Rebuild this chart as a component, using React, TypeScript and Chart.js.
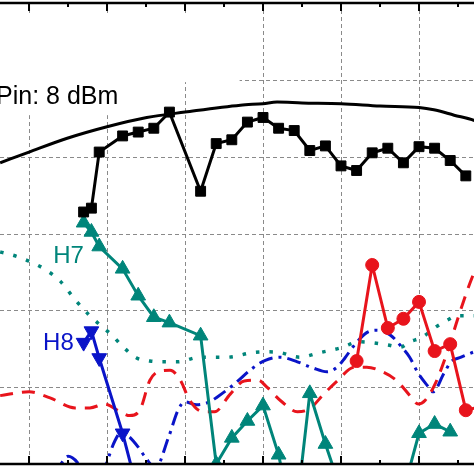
import { useEffect, useRef } from 'react';
import { Chart, registerables } from 'chart.js';

Chart.register(...registerables);

// Visible window of the (cropped) plot
const X_MIN = 0.628;
const X_MAX = 6.705;
const Y_MIN = -60;
const Y_MAX = 0;
const xMajorTicks = [1, 2, 3, 4, 5, 6];
const xMinorTicks = [1.5, 2.5, 3.5, 4.5, 5.5, 6.5];
const yGridValues = [-50, -40, -30, -20, -10];

// Fundamental, simulated (solid smooth line)
const simFundX = [0.63, 1.0, 1.49, 2.0, 2.51, 3.0, 3.71, 4.0, 4.18, 4.5, 5.0, 5.5, 6.0, 6.19, 6.45, 6.71, 6.8];
const simFundY = [-20.8, -19.4, -17.6, -16.1, -14.9, -14.2, -13.3, -13.1, -12.9, -13.0, -13.1, -13.4, -13.6, -13.9, -14.6, -15.3, -15.8];

// Fundamental, measured (black squares)
const measFundX = [1.7, 1.8, 1.9, 2.2, 2.4, 2.6, 2.8, 3.2, 3.4, 3.6, 3.8, 4.0, 4.2, 4.4, 4.6, 4.8, 5.0, 5.2, 5.4, 5.6, 5.8, 6.0, 6.2, 6.4, 6.6];
const measFundY = [-27.2, -26.7, -19.4, -17.3, -16.8, -16.3, -14.2, -24.5, -18.3, -17.8, -15.5, -14.9, -16.3, -16.6, -19.2, -18.6, -21.2, -21.8, -19.5, -18.9, -20.8, -18.7, -18.9, -20.5, -22.5];

// H7 measured (teal triangles)
const measH7X = [1.7, 1.8, 1.9, 2.2, 2.4, 2.6, 2.8, 3.2, 3.4, 3.6, 3.8, 4.0, 4.2, 4.4, 4.6, 4.8, 5.0, 5.2, 5.4, 5.6, 5.8, 6.0, 6.2, 6.4];
const measH7Y = [-28.6, -29.8, -31.7, -34.6, -38.1, -40.9, -41.6, -43.3, -60, -56.6, -54.4, -52.4, -58.8, -68.6, -50.8, -57.4, -63.4, -70, -70, -70, -63.5, -56.0, -54.8, -55.8];

// H8 measured (blue inverted triangles)
const measH8X = [1.7, 1.8, 1.9, 2.2, 2.4];
const measH8Y = [-44.2, -42.7, -46.2, -56.0, -63.8];

// Red measured (circles)
const measRedX = [5.2, 5.4, 5.6, 5.8, 6.0, 6.2, 6.4, 6.6, 6.8];
const measRedY = [-46.6, -34.1, -42.3, -41.1, -38.9, -45.3, -44.4, -53.0, -52.5];

// H7 simulated (teal dotted)
const simH7X = [0.63, 0.82, 1.0, 1.21, 1.4, 1.59, 1.76, 1.91, 2.06, 2.21, 2.38, 2.55, 2.72, 2.9, 3.19, 3.54, 3.87, 4.05, 4.22, 4.47, 4.73, 4.99, 5.24, 5.59, 5.76, 5.88, 6.04, 6.21, 6.36, 6.5, 6.71, 6.8];
const simH7Y = [-32.4, -32.9, -33.6, -34.7, -36.2, -38.6, -40.5, -41.9, -43.2, -44.8, -46.2, -46.6, -46.7, -46.7, -46.1, -46.1, -45.5, -45.4, -45.5, -46.1, -45.5, -44.9, -44.1, -44.5, -44.8, -44.1, -43.5, -42.2, -41.3, -40.7, -40.7, -40.7];

// Red simulated (dashed)
const simRedX = [0.63, 1.0, 1.27, 1.59, 1.78, 1.97, 2.17, 2.29, 2.42, 2.55, 2.68, 2.81, 2.94, 3.06, 3.23, 3.38, 3.58, 3.76, 3.94, 4.05, 4.23, 4.44, 4.6, 4.77, 4.95, 5.17, 5.33, 5.51, 5.72, 5.9, 5.99, 6.08, 6.21, 6.36, 6.5, 6.63, 6.78];
const simRedY = [-51.1, -50.6, -51.4, -52.7, -52.7, -52.2, -53.2, -53.7, -53.0, -49.1, -47.9, -47.8, -49.1, -51.7, -53.2, -53.2, -50.9, -49.2, -49.1, -50.0, -51.8, -53.2, -52.8, -51.0, -49.2, -47.4, -47.4, -47.9, -49.2, -51.3, -52.2, -51.7, -49.5, -45.5, -41.0, -37.1, -33.2];

// H8 simulated (blue dash-dot)
const simH8X = [0.63, 0.9, 1.37, 1.5, 1.62, 1.8, 1.95, 2.1, 2.19, 2.29, 2.4, 2.49, 2.62, 2.79, 2.91, 3.0, 3.15, 3.32, 3.41, 3.62, 3.87, 4.03, 4.22, 4.44, 4.64, 4.82, 4.95, 5.05, 5.15, 5.33, 5.46, 5.63, 5.78, 5.88, 5.99, 6.1, 6.18, 6.32, 6.41, 6.54, 6.71, 6.8];
const simH8Y = [-66, -63, -60.5, -59.0, -59.8, -63, -61, -57.0, -55.8, -56.5, -57.8, -59.1, -60.5, -56.5, -53.0, -51.9, -52.3, -51.9, -51.3, -49.7, -47.5, -46.5, -46.1, -46.7, -47.5, -48.0, -47.4, -46.2, -44.8, -42.9, -42.6, -43.2, -44.8, -46.1, -48.2, -49.7, -50.6, -48.2, -46.7, -46.1, -45.4, -45.2];

// Text annotations (data units)
const noteTexts = ['Pin: 8 dBm', 'H7', 'H8'];
const noteX = [0.577, 1.31, 1.18];
const noteY = [-13.1, -33.8, -45.2];
const noteColors = ['#000000', '#00857a', '#0a14c8'];
const noteSizes = [25, 24, 24];

// White boxes hiding the grid under the (cropped) legend and label
const boxX0 = [0.5, 0.5];
const boxX1 = [3.7, 2.5];
const boxY0 = [-10.3, -14.6];
const boxY1 = [-1.3, -10];

const TEAL = '#00857a';
const BLUE = '#0a14c8';
const RED = '#e8141c';

const zip = (xs: number[], ys: number[]) => xs.map((x, i) => ({ x, y: ys[i] }));

const framePlugin = {
  id: 'frameAndGrid',
  beforeDatasetsDraw: (chart: any) => {
    const { ctx, chartArea } = chart;
    const xs = chart.scales.x;
    const ys = chart.scales.y;
    ctx.save();
    ctx.strokeStyle = '#8a8a8a';
    ctx.lineWidth = 1;
    ctx.setLineDash([4, 3]);
    xMajorTicks.forEach((v) => {
      const px = Math.round(xs.getPixelForValue(v)) + 0.5;
      ctx.beginPath();
      ctx.moveTo(px, chartArea.top);
      ctx.lineTo(px, chartArea.bottom);
      ctx.stroke();
    });
    yGridValues.forEach((v) => {
      const py = Math.round(ys.getPixelForValue(v)) + 0.5;
      ctx.beginPath();
      ctx.moveTo(chartArea.left, py);
      ctx.lineTo(chartArea.right, py);
      ctx.stroke();
    });
    ctx.setLineDash([]);
    ctx.fillStyle = '#ffffff';
    boxX0.forEach((_, i) => {
      const l = xs.getPixelForValue(boxX0[i]);
      const r = xs.getPixelForValue(boxX1[i]);
      const t = ys.getPixelForValue(boxY1[i]);
      const b = ys.getPixelForValue(boxY0[i]);
      ctx.fillRect(l, t, r - l, b - t);
    });
    ctx.restore();
  },
  afterDatasetsDraw: (chart: any) => {
    const { ctx, chartArea } = chart;
    const xs = chart.scales.x;
    const ys = chart.scales.y;
    ctx.save();
    // top and bottom frame
    ctx.strokeStyle = '#000000';
    ctx.lineWidth = 2.5;
    ctx.beginPath();
    ctx.moveTo(chartArea.left, chartArea.top);
    ctx.lineTo(chartArea.right, chartArea.top);
    ctx.moveTo(chartArea.left, chartArea.bottom);
    ctx.lineTo(chartArea.right, chartArea.bottom);
    ctx.stroke();
    // inward ticks
    ctx.lineWidth = 2;
    const drawTicks = (vals: number[], len: number) => {
      vals.forEach((v) => {
        const px = xs.getPixelForValue(v);
        ctx.beginPath();
        ctx.moveTo(px, chartArea.top);
        ctx.lineTo(px, chartArea.top + len);
        ctx.moveTo(px, chartArea.bottom);
        ctx.lineTo(px, chartArea.bottom - len);
        ctx.stroke();
      });
    };
    drawTicks(xMajorTicks, 8);
    drawTicks(xMinorTicks, 4);
    // text notes
    ctx.textAlign = 'left';
    ctx.textBaseline = 'alphabetic';
    noteTexts.forEach((t, i) => {
      ctx.fillStyle = noteColors[i];
      ctx.font = `${noteSizes[i]}px "Liberation Sans", Arial, sans-serif`;
      ctx.fillText(t, xs.getPixelForValue(noteX[i]), ys.getPixelForValue(noteY[i]));
    });
    ctx.restore();
  },
};

const App = () => {
  const chartRef = useRef<HTMLCanvasElement>(null);
  const chartInstance = useRef<Chart | null>(null);

  useEffect(() => {
    if (!chartRef.current) return;
    if (chartInstance.current) chartInstance.current.destroy();
    const ctx = chartRef.current.getContext('2d');
    if (!ctx) return;

    const markerLine = (data: any, color: string, style: string, radius: number, rotation = 0) => ({
      data,
      borderColor: color,
      backgroundColor: color,
      borderWidth: 3,
      pointStyle: style,
      pointRadius: radius,
      pointRotation: rotation,
      pointBorderWidth: 1,
      tension: 0,
    });
    const plainLine = (data: any, color: string, dash: number[], width = 3) => ({
      data,
      borderColor: color,
      backgroundColor: color,
      borderWidth: width,
      borderDash: dash,
      pointRadius: 0,
      cubicInterpolationMode: 'monotone' as const,
    });

    chartInstance.current = new Chart(ctx, {
      type: 'line',
      plugins: [framePlugin],
      data: {
        datasets: [
          markerLine(zip(measFundX, measFundY), '#000000', 'rect', 7),
          markerLine(zip(measRedX, measRedY), RED, 'circle', 6.5),
          markerLine(zip(measH7X, measH7Y), TEAL, 'triangle', 8.5),
          markerLine(zip(measH8X, measH8Y), BLUE, 'triangle', 8.5, 180),
          plainLine(zip(simFundX, simFundY), '#000000', [], 3),
          plainLine(zip(simRedX, simRedY), RED, [13, 9]),
          plainLine(zip(simH8X, simH8Y), BLUE, [14, 6, 3, 6]),
          plainLine(zip(simH7X, simH7Y), TEAL, [3.5, 10], 3.5),
        ] as any,
      },
      options: {
        animation: false,
        responsive: true,
        maintainAspectRatio: false,
        events: [],
        layout: { autoPadding: false, padding: { top: 3, bottom: 2, left: 0, right: 0 } },
        plugins: {
          legend: { display: false },
          tooltip: { enabled: false },
        },
        scales: {
          x: { type: 'linear', min: X_MIN, max: X_MAX, display: false },
          y: { type: 'linear', min: Y_MIN, max: Y_MAX, display: false },
        },
      },
    });

    return () => {
      if (chartInstance.current) {
        chartInstance.current.destroy();
        chartInstance.current = null;
      }
    };
  }, []);

  return (
    <div style={{ position: 'absolute', left: 0, top: 0, width: 474, height: 466, background: '#ffffff' }}>
      <canvas ref={chartRef}></canvas>
    </div>
  );
};

export default App;
